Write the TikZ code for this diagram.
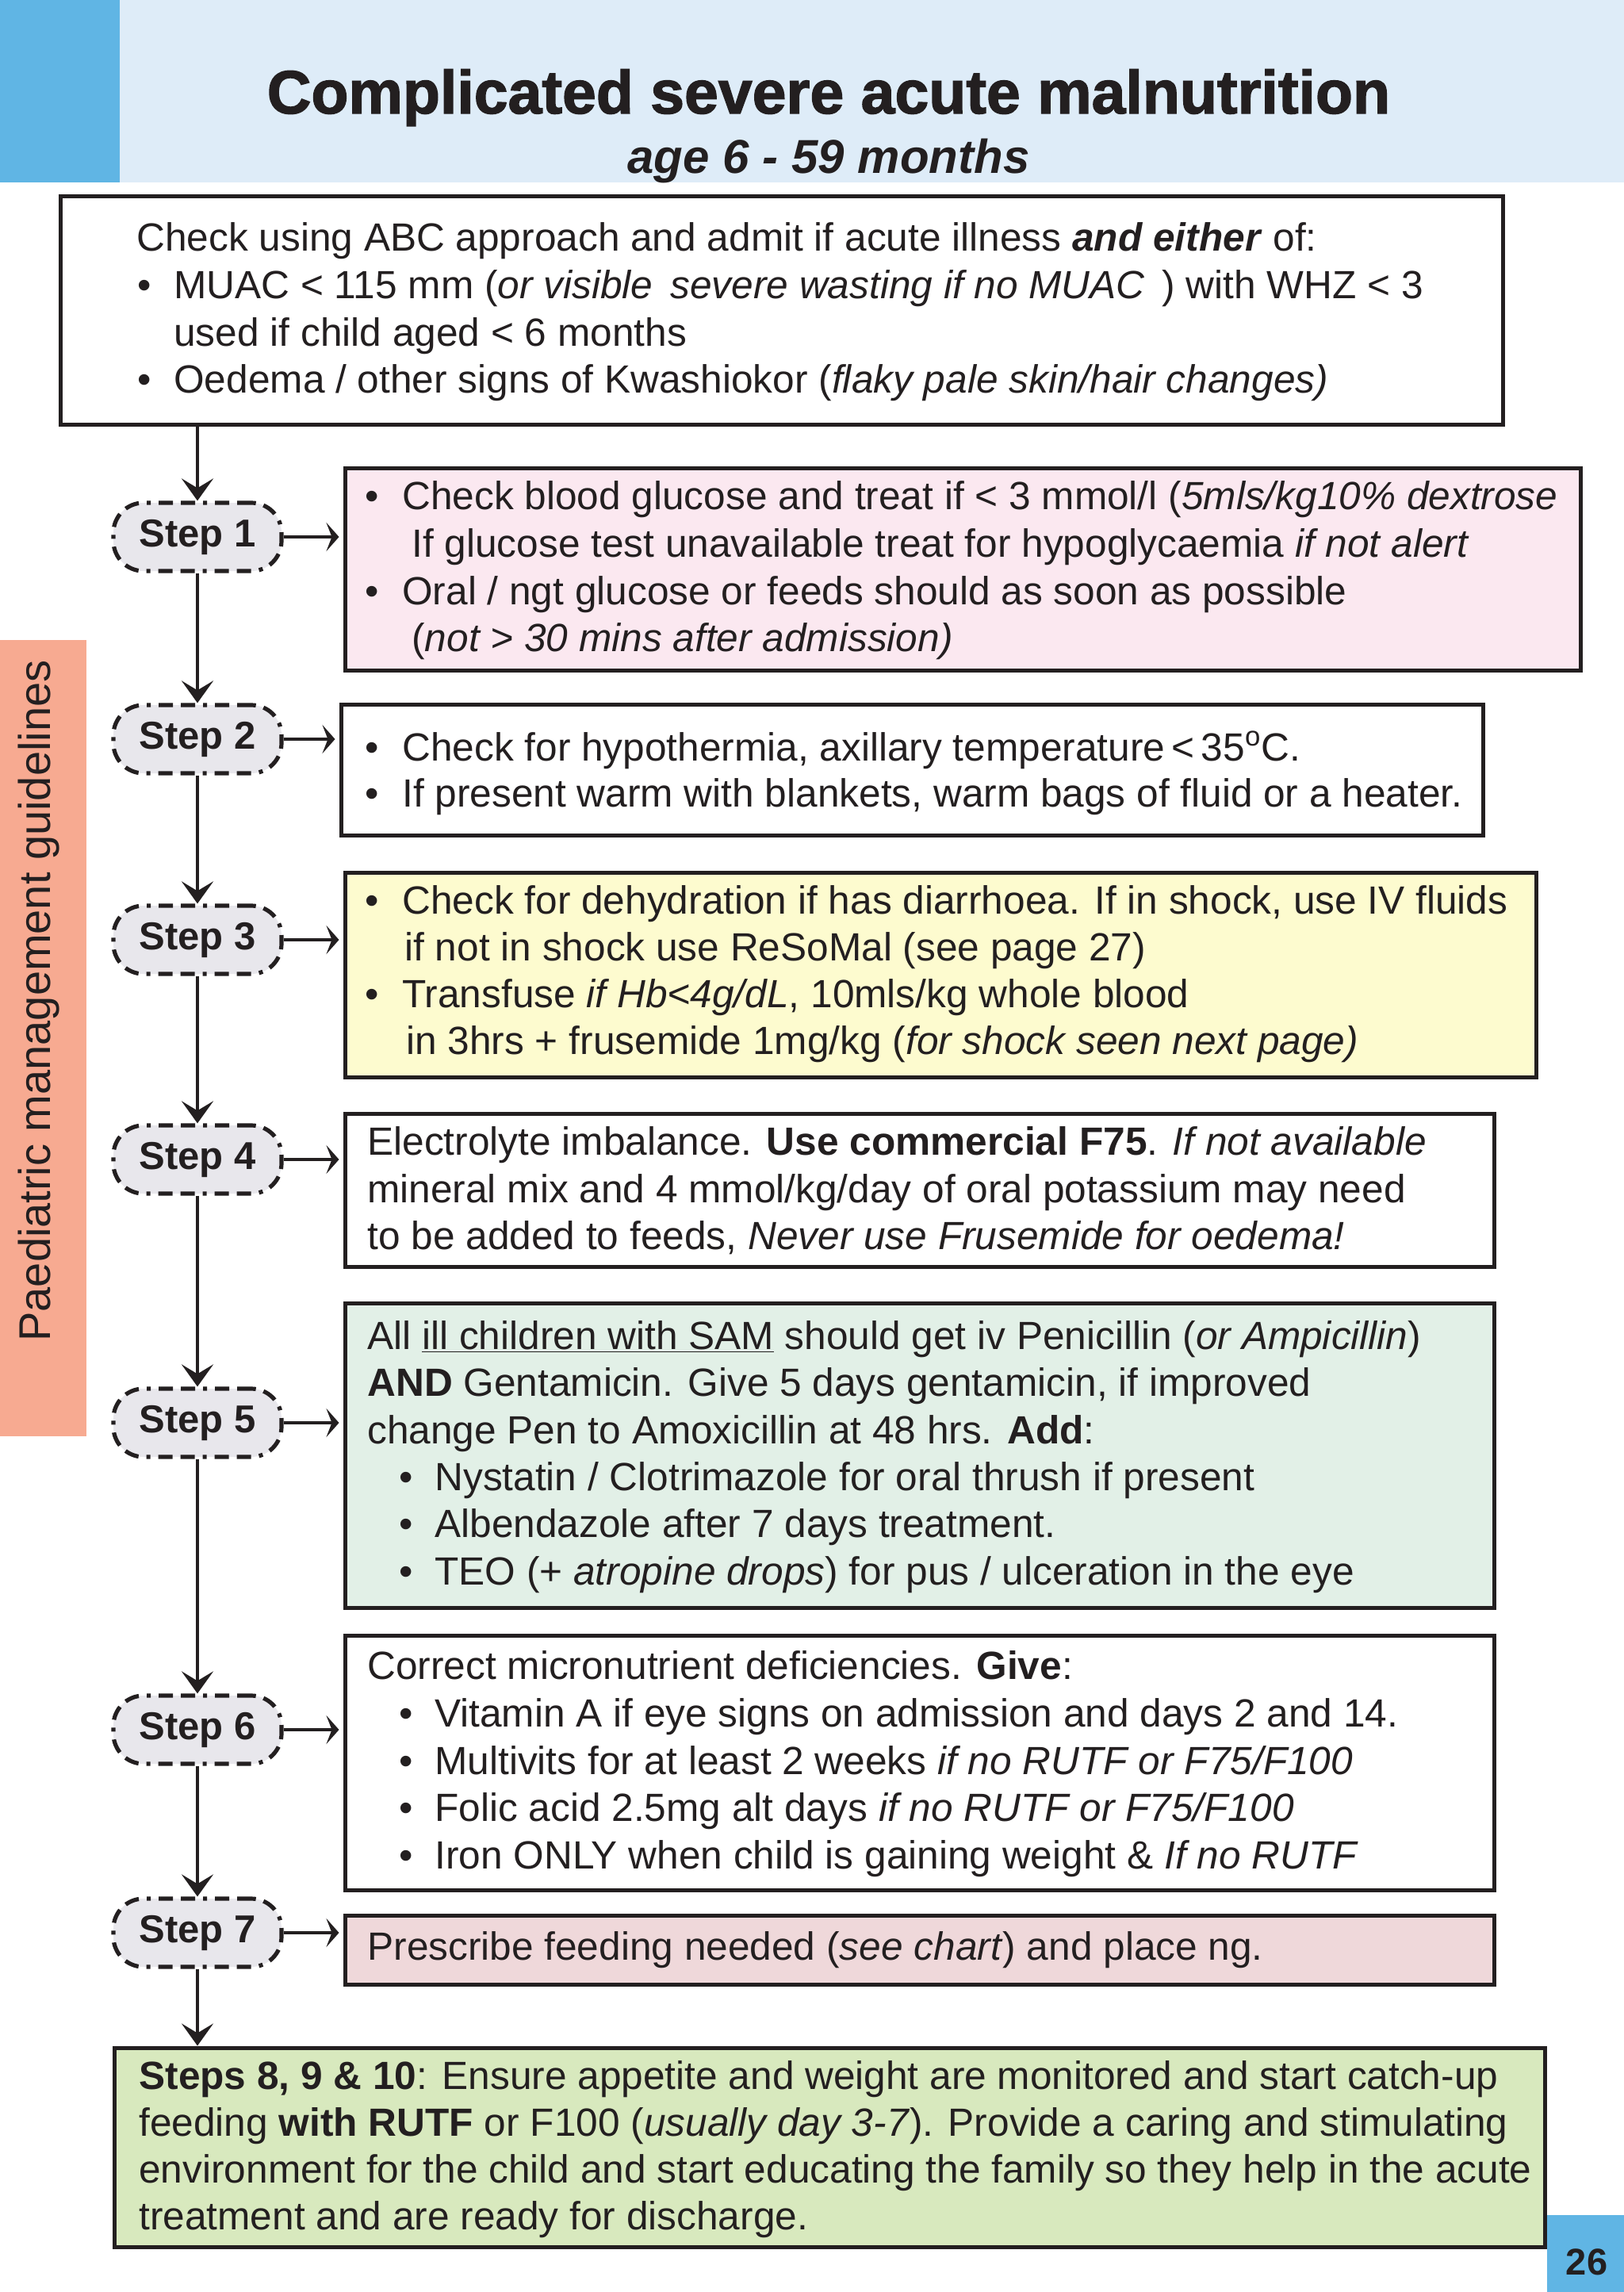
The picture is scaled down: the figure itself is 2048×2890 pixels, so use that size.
\documentclass[tikz,border=0pt]{standalone}
\usepackage{fontspec}
\setmainfont{Liberation Sans}
\newfontfamily\titlefont{Liberation Sans}[FakeBold=1.8]
\usetikzlibrary{arrows.meta,fit}
\definecolor{ink}{RGB}{35,31,32}
\definecolor{hdrdark}{RGB}{96,181,228}
\definecolor{hdrlight}{RGB}{222,236,248}
\definecolor{salmon}{RGB}{247,170,145}
\definecolor{pillgray}{RGB}{232,231,236}
\definecolor{pinkA}{RGB}{251,232,240}
\definecolor{yellowA}{RGB}{253,251,207}
\definecolor{mintA}{RGB}{226,240,231}
\definecolor{pinkB}{RGB}{239,216,218}
\definecolor{greenA}{RGB}{216,233,190}
\newcommand\txtline[4]{\node[txt] (#1) at (#2,#3) {#4};}
\newcommand\bulpt[3]{\node[bul] (#1) at (#2,#3) {\textbullet};}
\begin{document}
\begin{tikzpicture}[x=0.5pt,y=-0.5pt,
  txt/.style={anchor=base west, inner sep=0pt, text=ink, font=\fontsize{24.8pt}{29.5pt}\selectfont},
  bul/.style={anchor=base, inner sep=0pt, text=ink, font=\fontsize{24.8pt}{29.5pt}\selectfont},
  panel/.style={draw=ink, line width=2.5pt, inner sep=0pt, rectangle},
  stepbox/.style={draw=ink, fill=pillgray, line width=2.6pt, rounded corners=19pt,
     minimum width=106pt, minimum height=43pt, inner sep=0pt,
     dash pattern={on 9pt off 5pt on 9pt off 5pt on 2.5pt off 5pt},
     font=\bfseries\fontsize{24.5pt}{26pt}\selectfont, text=ink},
  down/.style={line width=2.3pt, draw=ink, -{Stealth[length=14pt,width=20pt,inset=6pt]}},
  toright/.style={line width=2.3pt, draw=ink, -{Stealth[length=8pt,width=18pt,inset=3.5pt]}}
]
\useasboundingbox (0,0) rectangle (2048,2890);
\fill[white] (0,0) rectangle (2048,2890);
% header
\fill[hdrlight] (151,0) rectangle (2048,230);
\fill[hdrdark] (0,0) rectangle (151,230);
\node[anchor=base, inner sep=0pt, text=ink, font=\titlefont\bfseries\fontsize{38.5pt}{40pt}\selectfont] (title) at (1045,143) {Complicated severe acute malnutrition};
\node[anchor=base, inner sep=0pt, text=ink, font=\bfseries\itshape\fontsize{30pt}{32pt}\selectfont] (subtitle) at (1045,218) {age 6 - 59 months};
% side label
\fill[salmon] (0,807) rectangle (109,1811);
\node[rotate=90, anchor=base west, inner sep=0pt, text=ink, font=\fontsize{28pt}{30pt}\selectfont] (side) at (63,1692) {Paediatric management guidelines};
% page number
\fill[hdrdark] (1951,2793) rectangle (2048,2890);
\node[anchor=base, inner sep=0pt, text=ink, font=\bfseries\fontsize{23.5pt}{26pt}\selectfont] (pagenum) at (2001,2868) {26};

% boxes
\node[panel, fill=white, fit={(76,247) (1895,535)}] (b0) {};
\node[panel, fill=pinkA, fit={(435,590) (1993,845)}] (b1) {};
\node[panel, fill=white, fit={(430,888) (1870,1053)}] (b2) {};
\node[panel, fill=yellowA, fit={(435,1100) (1937,1358)}] (b3) {};
\node[panel, fill=white, fit={(435,1404) (1884,1597)}] (b4) {};
\node[panel, fill=mintA, fit={(435,1643) (1884,2027)}] (b5) {};
\node[panel, fill=white, fit={(435,2062) (1884,2383)}] (b6) {};
\node[panel, fill=pinkB, fit={(435,2415) (1884,2502)}] (b7) {};
\node[panel, fill=greenA, fit={(144,2582) (1948,2833)}] (b8) {};

% steps
\node[stepbox] (s1) at (249,677) {Step 1};
\node[stepbox] (s2) at (249,932) {Step 2};
\node[stepbox] (s3) at (249,1185) {Step 3};
\node[stepbox] (s4) at (249,1462) {Step 4};
\node[stepbox] (s5) at (249,1794) {Step 5};
\node[stepbox] (s6) at (249,2181) {Step 6};
\node[stepbox] (s7) at (249,2437) {Step 7};

% connectors
\draw[down] (s1.north |- b0.south) -- (s1.north);
\draw[down] (s1.south) -- (s2.north);
\draw[down] (s2.south) -- (s3.north);
\draw[down] (s3.south) -- (s4.north);
\draw[down] (s4.south) -- (s5.north);
\draw[down] (s5.south) -- (s6.north);
\draw[down] (s6.south) -- (s7.north);
\draw[down] (s7.south) -- (s7.south |- b8.north);
\draw[toright] (s1.east) -- ([xshift=-2.5pt]s1.east -| b1.west);
\draw[toright] (s2.east) -- ([xshift=-2.5pt]s2.east -| b2.west);
\draw[toright] (s3.east) -- ([xshift=-2.5pt]s3.east -| b3.west);
\draw[toright] (s4.east) -- ([xshift=-2.5pt]s4.east -| b4.west);
\draw[toright] (s5.east) -- ([xshift=-2.5pt]s5.east -| b5.west);
\draw[toright] (s6.east) -- ([xshift=-2.5pt]s6.east -| b6.west);
\draw[toright] (s7.east) -- ([xshift=-2.5pt]s7.east -| b7.west);

% box 0 text
\txtline{t0a}{172}{316}{Check using ABC approach and admit if acute illness \textbf{\textit{and either}} of:}
\bulpt{u0b}{182}{376}
\txtline{t0b}{219}{376}{MUAC < 115 mm (\textit{or visible\, severe wasting if no MUAC\,} ) with WHZ < 3}
\txtline{t0c}{219}{436}{used if child aged < 6 months}
\bulpt{u0d}{182}{495}
\txtline{t0d}{219}{495}{Oedema / other signs of Kwashiokor (\textit{flaky pale skin/hair changes)}}

% box 1 text
\bulpt{u1a}{469}{642}
\txtline{t1a}{507}{642}{Check blood glucose and treat if < 3 mmol/l (\textit{5mls/kg10\% dextrose}}
\txtline{t1b}{519}{702}{If glucose test unavailable treat for hypoglycaemia \textit{if not alert}}
\bulpt{u1c}{469}{762}
\txtline{t1c}{507}{762}{Oral / ngt glucose or feeds should as soon as possible}
\txtline{t1d}{519}{821}{(\textit{not > 30 mins after admission)}}

% box 2 text
\bulpt{u2a}{469}{959}
\txtline{t2a}{507}{959}{Check for hypothermia, axillary temperature\,<\,35\textsuperscript{o}C.}
\bulpt{u2b}{469}{1017}
\txtline{t2b}{507}{1017}{If present warm with blankets, warm bags of fluid or a heater.}

% box 3 text
\bulpt{u3a}{469}{1152}
\txtline{t3a}{507}{1152}{Check for dehydration if has diarrhoea. If in shock, use IV fluids}
\txtline{t3b}{510}{1211}{if not in shock use ReSoMal (see page 27)}
\bulpt{u3c}{469}{1270}
\txtline{t3c}{507}{1270}{Transfuse \textit{if Hb<4g/dL}, 10mls/kg whole blood}
\txtline{t3d}{512}{1329}{in 3hrs + frusemide 1mg/kg (\textit{for shock seen next page)}}

% box 4 text
\txtline{t4a}{463}{1456}{Electrolyte imbalance. \textbf{Use commercial F75}. \textit{If not available}}
\txtline{t4b}{463}{1516}{mineral mix and 4 mmol/kg/day of oral potassium may need}
\txtline{t4c}{463}{1575}{to be added to feeds, \textit{Never use Frusemide for oedema!}}

% box 5 text
\txtline{t5a}{463}{1701}{All \underline{ill children with SAM} should get iv Penicillin (\textit{or Ampicillin})}
\txtline{t5b}{463}{1760}{\textbf{AND} Gentamicin. Give 5 days gentamicin, if improved}
\txtline{t5c}{463}{1820}{change Pen to Amoxicillin at 48 hrs. \textbf{Add}:}
\bulpt{u5d}{512}{1879}
\txtline{t5d}{548}{1879}{Nystatin / Clotrimazole for oral thrush if present}
\bulpt{u5e}{512}{1938}
\txtline{t5e}{548}{1938}{Albendazole after 7 days treatment.}
\bulpt{u5f}{512}{1998}
\txtline{t5f}{548}{1998}{TEO (+ \textit{atropine drops}) for pus / ulceration in the eye}

% box 6 text
\txtline{t6a}{463}{2117}{Correct micronutrient deficiencies. \textbf{Give}:}
\bulpt{u6b}{512}{2177}
\txtline{t6b}{548}{2177}{Vitamin A if eye signs on admission and days 2 and 14.}
\bulpt{u6c}{512}{2237}
\txtline{t6c}{548}{2237}{Multivits for at least 2 weeks \textit{if no RUTF or F75/F100}}
\bulpt{u6d}{512}{2296}
\txtline{t6d}{548}{2296}{Folic acid 2.5mg alt days \textit{if no RUTF or F75/F100}}
\bulpt{u6e}{512}{2356}
\txtline{t6e}{548}{2356}{Iron ONLY when child is gaining weight \& \textit{If no RUTF}}

% box 7 text
\txtline{t7a}{463}{2471}{Prescribe feeding needed (\textit{see chart}) and place ng.}

% final box text
\txtline{t8a}{175}{2634}{\textbf{Steps 8, 9 \& 10}: Ensure appetite and weight are monitored and start catch-up}
\txtline{t8b}{175}{2693}{feeding \textbf{with RUTF} or F100 (\textit{usually day 3-7}). Provide a caring and stimulating}
\txtline{t8c}{175}{2752}{environment for the child and start educating the family so they help in the acute}
\txtline{t8d}{175}{2811}{treatment and are ready for discharge.}
\end{tikzpicture}
\end{document}
